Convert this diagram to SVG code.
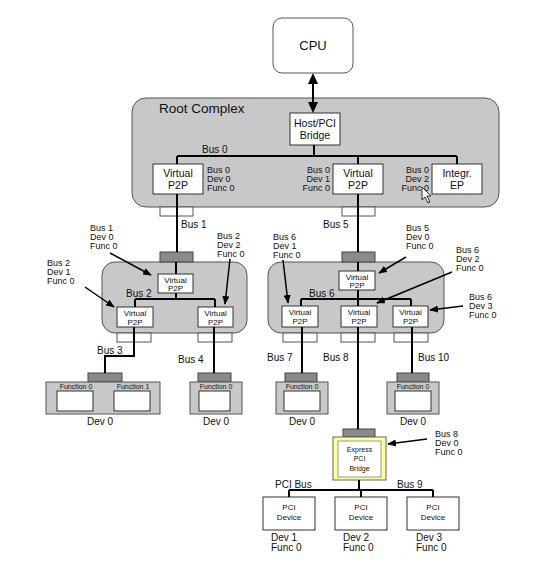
<svg xmlns="http://www.w3.org/2000/svg" width="540" height="570" viewBox="0 0 540 570">
<defs>
<style>
text{font-family:"Liberation Sans",Arial,sans-serif;fill:#111}
.c{text-anchor:middle}
.e{text-anchor:end}
.lbl{font-size:10px}
.st{font-size:9px}
.big{font-size:10.5px}
.sm{font-size:8px}
.xs{font-size:7px}
.cx{fill:#c8c8c8;stroke:#555;stroke-width:1}
.box{fill:#fff;stroke:#333;stroke-width:1}
.port{fill:#fff;stroke:#555;stroke-width:1}
.dport{fill:#8a8a8a;stroke:#444;stroke-width:1}
.bus{stroke:#000;stroke-width:2;fill:none}
.ar{stroke:#000;stroke-width:1.5;fill:none;marker-end:url(#ah)}
</style>
<marker id="ah" viewBox="0 0 10 8" refX="9" refY="4" markerWidth="9" markerHeight="7" markerUnits="userSpaceOnUse" orient="auto">
<path d="M0,0 L10,4 L0,8 Z" fill="#000"/>
</marker>
</defs>
<rect width="540" height="570" fill="#fff"/>

<g id="root-complex">
<rect class="cx" x="132" y="98" width="367" height="109" rx="14"/>
<text x="159" y="112.5" style="font-size:13.5px">Root Complex</text>
</g>

<g id="cpu">
<rect x="273" y="18" width="80" height="55" rx="9" fill="#fff" stroke="#555"/>
<text class="c" x="313" y="50" style="font-size:13px">CPU</text>
</g>

<g id="host-bridge">
<rect class="box" x="290" y="113" width="50" height="32"/>
<text class="c big" x="315" y="126.5">Host/PCI</text>
<text class="c big" x="315" y="138.5">Bridge</text>
</g>

<g id="rc-p2p-0">
<rect class="box" x="153" y="164" width="50" height="30"/>
<text class="c big" x="178" y="177">Virtual</text>
<text class="c big" x="178" y="188.5">P2P</text>
<text class="st" x="207" y="172.5">Bus 0</text>
<text class="st" x="207" y="181.5">Dev 0</text>
<text class="st" x="207" y="190.5">Func 0</text>
</g>

<g id="rc-p2p-1">
<rect class="box" x="333" y="164" width="50" height="30"/>
<text class="c big" x="358" y="177">Virtual</text>
<text class="c big" x="358" y="188.5">P2P</text>
<text class="st e" x="330" y="172.5">Bus 0</text>
<text class="st e" x="330" y="181.5">Dev 1</text>
<text class="st e" x="330" y="190.5">Func 0</text>
</g>

<g id="integr-ep">
<rect class="box" x="432" y="164" width="50" height="30"/>
<text class="c big" x="457" y="177">Integr.</text>
<text class="c big" x="457" y="188.5">EP</text>
<text class="st e" x="429" y="172.5">Bus 0</text>
<text class="st e" x="429" y="181.5">Dev 2</text>
<text class="st e" x="429" y="190.5">Func 0</text>
</g>

<g id="rc-ports">
<rect class="port" x="160" y="207" width="33" height="9"/>
<rect class="port" x="342" y="207" width="33" height="9"/>
</g>

<g id="switch-left">
<rect class="cx" x="102" y="262" width="145" height="71" rx="13"/>
<rect class="dport" x="160" y="252" width="33" height="10"/>
<rect class="box" x="158" y="274" width="35" height="19"/>
<text class="c sm" x="175.5" y="282.5">Virtual</text>
<text class="c sm" x="175.5" y="291">P2P</text>
<rect class="box" x="117" y="307" width="36" height="20"/>
<text class="c sm" x="135" y="315.5">Virtual</text>
<text class="c sm" x="135" y="324.5">P2P</text>
<rect class="box" x="198" y="307" width="35" height="20"/>
<text class="c sm" x="215.5" y="315.5">Virtual</text>
<text class="c sm" x="215.5" y="324.5">P2P</text>
<rect class="port" x="117" y="333" width="34" height="9"/>
<rect class="port" x="198" y="333" width="34" height="9"/>
<text class="lbl" x="126" y="297">Bus 2</text>
</g>

<g id="switch-right">
<rect class="cx" x="268" y="262" width="176" height="71" rx="13"/>
<rect class="dport" x="342" y="252" width="33" height="10"/>
<rect class="box" x="339" y="271" width="36" height="19"/>
<text class="c sm" x="357" y="279.5">Virtual</text>
<text class="c sm" x="357" y="288">P2P</text>
<rect class="box" x="282" y="306" width="36" height="21"/>
<text class="c sm" x="300" y="315">Virtual</text>
<text class="c sm" x="300" y="324">P2P</text>
<rect class="box" x="341" y="306" width="36" height="21"/>
<text class="c sm" x="359" y="315">Virtual</text>
<text class="c sm" x="359" y="324">P2P</text>
<rect class="box" x="393" y="306" width="35" height="21"/>
<text class="c sm" x="410.5" y="315">Virtual</text>
<text class="c sm" x="410.5" y="324">P2P</text>
<rect class="port" x="283" y="333" width="34" height="9"/>
<rect class="port" x="341" y="333" width="34" height="9"/>
<rect class="port" x="394" y="333" width="34" height="9"/>
<text class="lbl" x="309" y="297">Bus 6</text>
</g>

<g id="dev-bus3">
<rect class="dport" x="88" y="373" width="34" height="9"/>
<rect class="cx" x="46" y="382" width="114" height="32"/>
<text class="c xs" x="76" y="389">Function 0</text>
<text class="c xs" x="133" y="389">Function 1</text>
<rect class="box" x="57" y="391" width="36" height="20"/>
<rect class="box" x="114" y="391" width="36" height="20"/>
<text class="c lbl" x="100" y="425">Dev 0</text>
</g>

<g id="dev-bus4">
<rect class="dport" x="198" y="373" width="33" height="9"/>
<rect class="cx" x="190" y="382" width="52" height="32"/>
<text class="c xs" x="216" y="389">Function 0</text>
<rect class="box" x="199" y="391" width="31" height="20"/>
<text class="c lbl" x="216" y="425">Dev 0</text>
</g>

<g id="dev-bus7">
<rect class="dport" x="285" y="373" width="32" height="9"/>
<rect class="cx" x="276" y="382" width="52" height="32"/>
<text class="c xs" x="302" y="389">Function 0</text>
<rect class="box" x="284" y="391" width="36" height="20"/>
<text class="c lbl" x="302" y="425">Dev 0</text>
</g>

<g id="dev-bus10">
<rect class="dport" x="397" y="373" width="32" height="9"/>
<rect class="cx" x="387" y="382" width="52" height="32"/>
<text class="c xs" x="413" y="389">Function 0</text>
<rect class="box" x="395" y="391" width="36" height="20"/>
<text class="c lbl" x="413" y="425">Dev 0</text>
</g>

<g id="express-pci-bridge">
<rect class="dport" x="343" y="429" width="32" height="8"/>
<rect x="333" y="437" width="53" height="43" fill="#ffff99" stroke="#666"/>
<rect x="338" y="441" width="43" height="36" fill="#fff" stroke="#999"/>
<text class="c xs" x="359.5" y="452">Express</text>
<text class="c xs" x="359.5" y="461">PCI</text>
<text class="c xs" x="359.5" y="471">Bridge</text>
</g>

<g id="pci-dev-1">
<rect class="box" x="263" y="497" width="52" height="33"/>
<text class="c sm" x="289" y="510">PCI</text>
<text class="c sm" x="289" y="520">Device</text>
<text class="lbl" x="271" y="541">Dev 1</text>
<text class="lbl" x="271" y="550.5">Func 0</text>
</g>
<g id="pci-dev-2">
<rect class="box" x="335" y="497" width="52" height="33"/>
<text class="c sm" x="361" y="510">PCI</text>
<text class="c sm" x="361" y="520">Device</text>
<text class="lbl" x="343" y="541">Dev 2</text>
<text class="lbl" x="343" y="550.5">Func 0</text>
</g>
<g id="pci-dev-3">
<rect class="box" x="407" y="497" width="52" height="33"/>
<text class="c sm" x="433" y="510">PCI</text>
<text class="c sm" x="433" y="520">Device</text>
<text class="lbl" x="416" y="541">Dev 3</text>
<text class="lbl" x="416" y="550.5">Func 0</text>
</g>

<g id="connectors">
<line x1="313" y1="82" x2="313" y2="104" stroke="#000" stroke-width="2"/>
<polygon points="313,73 308,84 318,84" fill="#000"/>
<polygon points="313,113 308,102 318,102" fill="#000"/>
<path class="bus" d="M314,145V156M177,156H457M177,156V164M358,156V164M457,156V164"/>
<path class="bus" d="M177,194V252M358,194V252"/>
<path class="bus" d="M176,262V274M176,293V299M135,299H215M135,299V307M215,299V307"/>
<path class="bus" d="M134,327V356H105V373M214,327V373"/>
<path class="bus" d="M358,262V271M358,290V306M301,299H411M301,299V306M411,299V306"/>
<path class="bus" d="M302,327V373M358,327V429M412,327V373"/>
<path class="bus" d="M359,480V490M289,490H433M289,490V497M361,490V497M433,490V497"/>
<text class="lbl" x="202" y="153">Bus 0</text>
<text class="lbl" x="181" y="228">Bus 1</text>
<text class="lbl" x="323" y="228">Bus 5</text>
<text class="lbl" x="97" y="354">Bus 3</text>
<text class="lbl" x="178" y="363">Bus 4</text>
<text class="lbl" x="267" y="361">Bus 7</text>
<text class="lbl" x="323" y="361">Bus 8</text>
<text class="lbl" x="418" y="361">Bus 10</text>
<text class="lbl" x="275" y="488">PCI Bus</text>
<text class="lbl" x="397" y="488">Bus 9</text>
</g>

<g id="annotations">
<text class="st" x="90" y="231">Bus 1</text>
<text class="st" x="90" y="240">Dev 0</text>
<text class="st" x="90" y="249">Func 0</text>
<line class="ar" x1="110" y1="253" x2="151" y2="275"/>
<text class="st" x="47" y="266">Bus 2</text>
<text class="st" x="47" y="275">Dev 1</text>
<text class="st" x="47" y="284">Func 0</text>
<line class="ar" x1="85" y1="287" x2="114" y2="307"/>
<text class="st" x="217" y="239">Bus 2</text>
<text class="st" x="217" y="248">Dev 2</text>
<text class="st" x="217" y="257">Func 0</text>
<line class="ar" x1="230" y1="259" x2="225" y2="304"/>
<text class="st" x="273" y="239.5">Bus 6</text>
<text class="st" x="273" y="248.5">Dev 1</text>
<text class="st" x="273" y="257.5">Func 0</text>
<line class="ar" x1="283" y1="260" x2="288" y2="303"/>
<text class="st" x="406" y="231">Bus 5</text>
<text class="st" x="406" y="240">Dev 0</text>
<text class="st" x="406" y="249">Func 0</text>
<line class="ar" x1="406" y1="257" x2="379" y2="273"/>
<text class="st" x="456" y="252.5">Bus 6</text>
<text class="st" x="456" y="261.5">Dev 2</text>
<text class="st" x="456" y="270.5">Func 0</text>
<line class="ar" x1="452" y1="272" x2="377" y2="303"/>
<text class="st" x="469" y="299.5">Bus 6</text>
<text class="st" x="469" y="308.5">Dev 3</text>
<text class="st" x="469" y="317.5">Func 0</text>
<line class="ar" x1="463" y1="306" x2="430" y2="310"/>
<text class="st" x="435" y="437">Bus 8</text>
<text class="st" x="435" y="446">Dev 0</text>
<text class="st" x="435" y="455">Func 0</text>
<line class="ar" x1="427" y1="439" x2="388" y2="444"/>
</g>

<g id="cursor">
<polygon points="422,187 422,200 425,197 428,203 430,202 427,196 431,196" fill="#fff" stroke="#000" stroke-width="0.8"/>
</g>
</svg>
